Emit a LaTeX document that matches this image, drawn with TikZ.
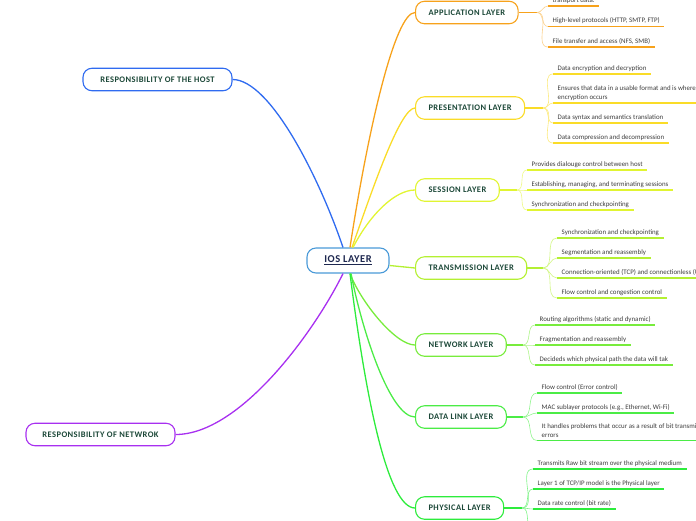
\documentclass[tikz,border=0pt]{standalone}
\usepackage{fontspec}
\setmainfont{Carlito}
\newfontfamily\capsfont[LetterSpace=5.0]{Carlito}
\usetikzlibrary{positioning}
\definecolor{hostcol}{RGB}{47,107,240}
\definecolor{netwcol}{RGB}{168,48,240}
\definecolor{iosblue}{RGB}{74,154,216}
\definecolor{iosnavy}{RGB}{30,40,80}
\definecolor{appcol}{RGB}{247,162,27}
\definecolor{prescol}{RGB}{250,220,40}
\definecolor{sesscol}{RGB}{225,245,50}
\definecolor{transcol}{RGB}{180,240,50}
\definecolor{netcol}{RGB}{120,236,60}
\definecolor{dlcol}{RGB}{75,236,70}
\definecolor{physcol}{RGB}{45,236,60}
\definecolor{labelgreen}{RGB}{28,72,56}
\definecolor{leafgray}{RGB}{60,60,60}
\tikzstyle{root} = [rectangle, rounded corners=9pt, minimum width=82pt, minimum height=25pt, draw=iosblue, fill=white, line width=1.1pt, text=iosnavy, font=\capsfont\bfseries\fontsize{10.5}{12}\selectfont]
\tikzstyle{layer} = [rectangle, rounded corners=9pt, minimum height=22.5pt, inner xsep=13pt, anchor=west, fill=white, line width=1.1pt, text=labelgreen, font=\capsfont\bfseries\fontsize{8.5}{10}\selectfont]
\tikzstyle{side} = [layer, anchor=center, minimum width=149pt]
\tikzstyle{leaf} = [anchor=south west, inner xsep=4.5pt, inner ysep=2.3pt, text=leafgray, font=\fontsize{6.9}{9}\selectfont, align=left]
\tikzstyle{appleaf} = [leaf, append after command={(\tikzlastnode.south west) edge[draw=appcol, line width=1.4pt] (\tikzlastnode.south east)}]
\tikzstyle{presleaf} = [leaf, append after command={(\tikzlastnode.south west) edge[draw=prescol, line width=1.4pt] (\tikzlastnode.south east)}]
\tikzstyle{sessleaf} = [leaf, append after command={(\tikzlastnode.south west) edge[draw=sesscol, line width=1.4pt] (\tikzlastnode.south east)}]
\tikzstyle{transleaf} = [leaf, append after command={(\tikzlastnode.south west) edge[draw=transcol, line width=1.4pt] (\tikzlastnode.south east)}]
\tikzstyle{netleaf} = [leaf, append after command={(\tikzlastnode.south west) edge[draw=netcol, line width=1.4pt] (\tikzlastnode.south east)}]
\tikzstyle{dlleaf} = [leaf, append after command={(\tikzlastnode.south west) edge[draw=dlcol, line width=1.4pt] (\tikzlastnode.south east)}]
\tikzstyle{physleaf} = [leaf, append after command={(\tikzlastnode.south west) edge[draw=physcol, line width=1.4pt] (\tikzlastnode.south east)}]
\tikzstyle{branch} = [line width=1.3pt]
\tikzstyle{twig} = [line width=0.6pt]
\begin{document}
\begin{tikzpicture}[x=1pt, y=1pt]
\useasboundingbox (0,0) rectangle (696,-520);

\node (ios) [root] at (348,-260.5) {\underline{IOS LAYER}};
\node (host) [side, draw=hostcol] at (157.5,-79.5) {RESPONSIBILITY OF THE HOST};
\node (netw) [side, draw=netwcol] at (100.5,-434.5) {RESPONSIBILITY OF NETWROK};

\node (app) [layer, draw=appcol] at (415,-12.5) {APPLICATION LAYER};
\node (pres) [layer, draw=prescol] at (415,-108) {PRESENTATION LAYER};
\node (sess) [layer, draw=sesscol] at (415,-190) {SESSION LAYER};
\node (trans) [layer, draw=transcol] at (415,-268) {TRANSMISSION LAYER};
\node (net) [layer, draw=netcol] at (415,-345) {NETWORK LAYER};
\node (dlink) [layer, draw=dlcol] at (415,-417) {DATA LINK LAYER};
\node (phys) [layer, draw=physcol] at (415,-508) {PHYSICAL LAYER};

\draw [branch, hostcol] ([xshift=-5pt]ios.north) .. controls +(-23,68) and +(38,0) .. (host.east);
\draw [branch, appcol] ([xshift=2pt]ios.north) .. controls +(18,118) and +(-20,0) .. (app.west);
\draw [branch, prescol] ([xshift=4pt]ios.north) .. controls +(20,57) and +(-15,0) .. (pres.west);
\draw [branch, sesscol] ([xshift=5pt]ios.north) .. controls +(17,33) and +(-20,0) .. (sess.west);
\draw [branch, transcol] ([yshift=-5pt]ios.east) -- (trans.west);
\draw [branch, netwcol] ([xshift=-5pt]ios.south) .. controls +(-28,-57) and +(65,0) .. (netw.east);
\draw [branch, netcol] ([xshift=2pt]ios.south) .. controls +(10,-27) and +(-20,0) .. (net.west);
\draw [branch, dlcol] ([xshift=3pt]ios.south) .. controls +(11,-57) and +(-25,0) .. (dlink.west);
\draw [branch, physcol] ([xshift=2pt]ios.south) .. controls +(16,-127) and +(-27,0) .. (phys.west);

\coordinate (appf) at (537,-12.5);
\coordinate (presf) at (543,-108);
\coordinate (sessf) at (517,-190);
\coordinate (transf) at (543,-268);
\coordinate (netf) at (523,-345);
\coordinate (dlf) at (523,-417);
\coordinate (physf) at (522,-508);

\node (app0) [appleaf] at (548,-6) {transport data.};
\node (app1) [appleaf] at (548,-26.5) {High-level protocols (HTTP, SMTP, FTP)};
\node (app2) [appleaf] at (548,-47) {File transfer and access (NFS, SMB)};
\draw [branch, appcol] (app.east) -- (appf);
\draw [twig, appcol!50] (appf) to[out=0, in=180] (app0.south west);
\draw [twig, appcol!50] (appf) to[out=0, in=180] (app1.south west);
\draw [twig, appcol!50] (appf) to[out=0, in=180] (app2.south west);

\node (pres1) [presleaf] at (553,-74) {Data encryption and decryption};
\node (pres2) [presleaf] at (553,-103) {Ensures that data in a usable format and is where\\encryption occurs};
\node (pres3) [presleaf] at (553,-123) {Data syntax and semantics translation};
\node (pres4) [presleaf] at (553,-143) {Data compression and decompression};
\draw [branch, prescol] (pres.east) -- (presf);
\draw [twig, prescol!60] (presf) to[out=0, in=180] (pres1.south west);
\draw [twig, prescol!60] (presf) to[out=0, in=180] (pres2.south west);
\draw [twig, prescol!60] (presf) to[out=0, in=180] (pres3.south west);
\draw [twig, prescol!60] (presf) to[out=0, in=180] (pres4.south west);

\node (sess1) [sessleaf] at (527,-170) {Provides dialouge control between host};
\node (sess2) [sessleaf] at (527,-190) {Establishing, managing, and terminating sessions};
\node (sess3) [sessleaf] at (527,-210) {Synchronization and checkpointing};
\draw [branch, sesscol] (sess.east) -- (sessf);
\draw [twig, sesscol!60] (sessf) to[out=0, in=180] (sess1.south west);
\draw [twig, sesscol!60] (sessf) to[out=0, in=180] (sess2.south west);
\draw [twig, sesscol!60] (sessf) to[out=0, in=180] (sess3.south west);

\node (trans1) [transleaf] at (557,-238) {Synchronization and checkpointing};
\node (trans2) [transleaf] at (557,-258) {Segmentation and reassembly};
\node (trans3) [transleaf] at (557,-278) {Connection-oriented (TCP) and connectionless (UDP)};
\node (trans4) [transleaf] at (557,-298) {Flow control and congestion control};
\draw [branch, transcol] (trans.east) -- (transf);
\draw [twig, transcol!60] (transf) to[out=0, in=180] (trans1.south west);
\draw [twig, transcol!60] (transf) to[out=0, in=180] (trans2.south west);
\draw [twig, transcol!60] (transf) to[out=0, in=180] (trans3.south west);
\draw [twig, transcol!60] (transf) to[out=0, in=180] (trans4.south west);

\node (net1) [netleaf] at (535,-325) {Routing algorithms (static and dynamic)};
\node (net2) [netleaf] at (535,-345) {Fragmentation and reassembly};
\node (net3) [netleaf] at (535,-365) {Decideds which physical path the data will tak};
\draw [branch, netcol] (net.east) -- (netf);
\draw [twig, netcol!60] (netf) to[out=0, in=180] (net1.south west);
\draw [twig, netcol!60] (netf) to[out=0, in=180] (net2.south west);
\draw [twig, netcol!60] (netf) to[out=0, in=180] (net3.south west);

\node (dl1) [dlleaf] at (537,-393) {Flow control (Error control)};
\node (dl2) [dlleaf] at (537,-413) {MAC sublayer protocols (e.g., Ethernet, Wi-Fi)};
\node (dl3) [dlleaf] at (537,-440.5) {It handles problems that occur as a result of bit transmission\\errors};
\draw [branch, dlcol] (dlink.east) -- (dlf);
\draw [twig, dlcol!60] (dlf) to[out=0, in=180] (dl1.south west);
\draw [twig, dlcol!60] (dlf) to[out=0, in=180] (dl2.south west);
\draw [twig, dlcol!60] (dlf) to[out=0, in=180] (dl3.south west);

\node (phys1) [physleaf] at (533,-469) {Transmits Raw bit stream over the physical medium};
\node (phys2) [physleaf] at (533,-489) {Layer 1 of TCP/IP model is the Physical layer};
\node (phys3) [physleaf] at (533,-509) {Data rate control (bit rate)};
\coordinate (phys4) at (533,-529);
\draw [branch, physcol] (phys.east) -- (physf);
\draw [twig, physcol!60] (physf) to[out=0, in=180] (phys1.south west);
\draw [twig, physcol!60] (physf) to[out=0, in=180] (phys2.south west);
\draw [twig, physcol!60] (physf) to[out=0, in=180] (phys3.south west);
\draw [twig, physcol!60] (physf) to[out=0, in=180] (phys4);

\end{tikzpicture}
\end{document}
